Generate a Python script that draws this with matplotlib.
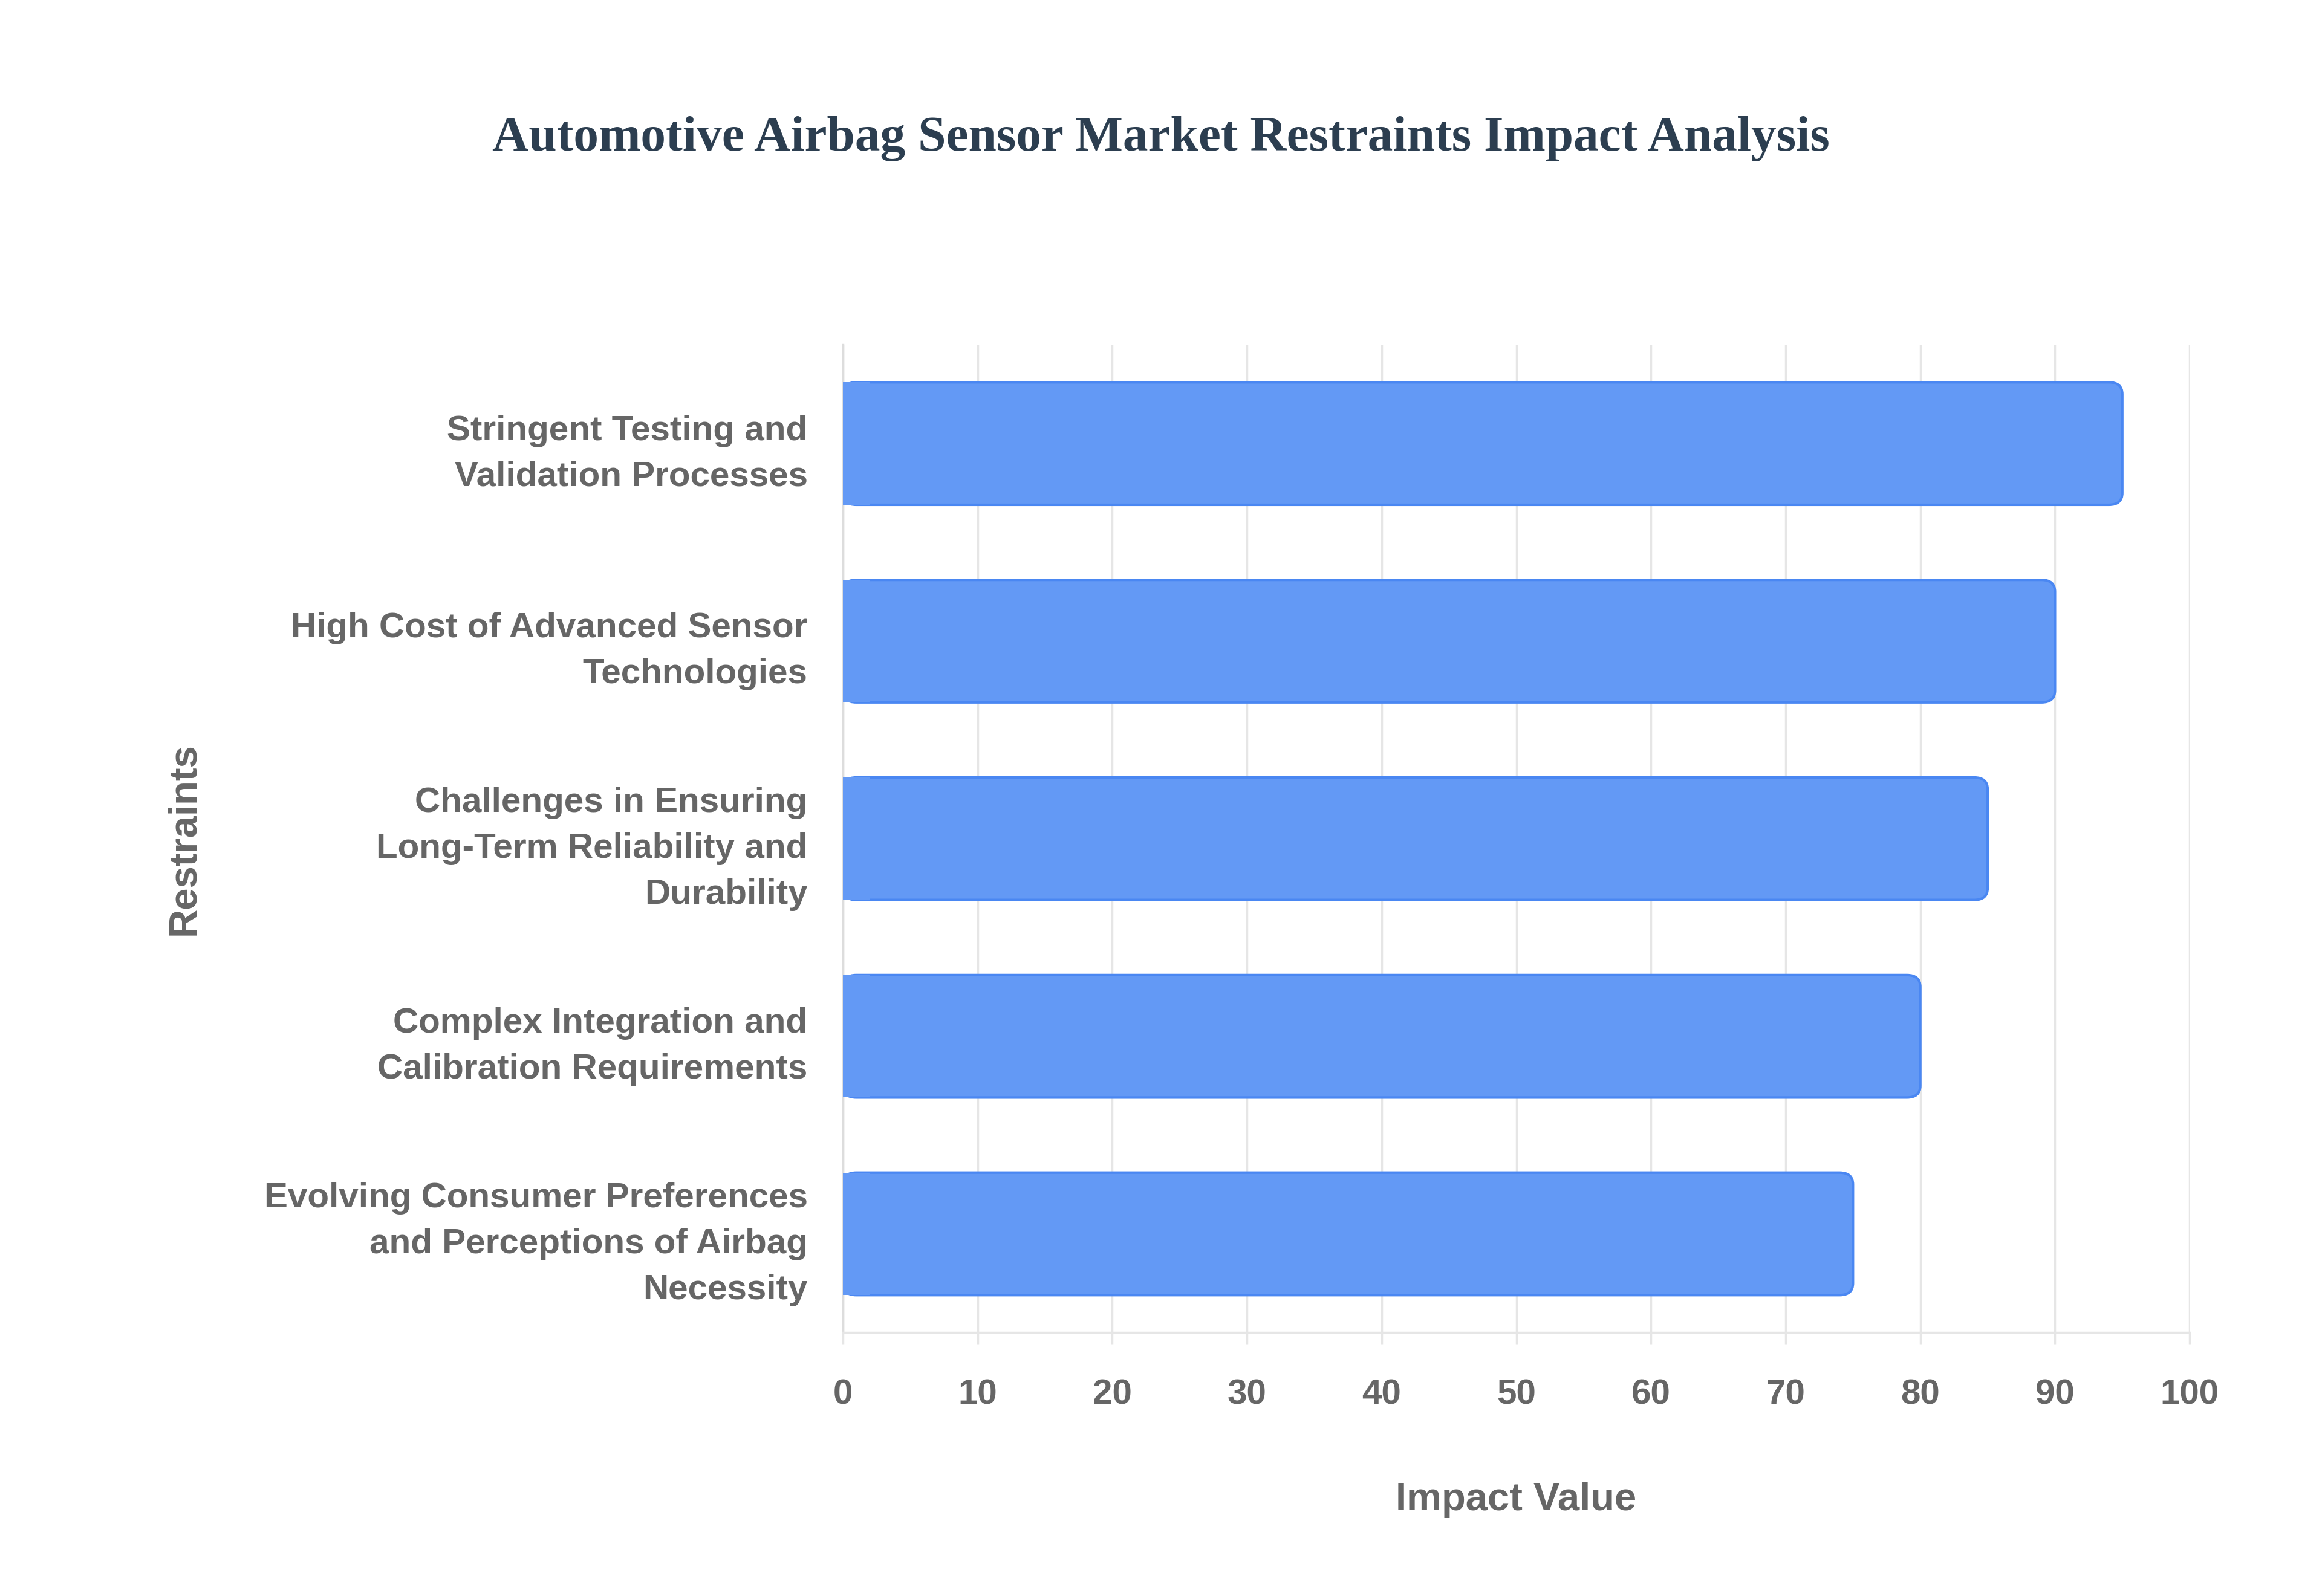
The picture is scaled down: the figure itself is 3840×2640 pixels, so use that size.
import matplotlib
matplotlib.use("Agg")
import matplotlib.pyplot as plt
from matplotlib.patches import FancyBboxPatch

# data
restraints = [
    "Stringent Testing and\nValidation Processes",
    "High Cost of Advanced Sensor\nTechnologies",
    "Challenges in Ensuring\nLong-Term Reliability and\nDurability",
    "Complex Integration and\nCalibration Requirements",
    "Evolving Consumer Preferences\nand Perceptions of Airbag\nNecessity",
]
impact = [95, 90, 85, 80, 75]
xticks = [0, 10, 20, 30, 40, 50, 60, 70, 80, 90, 100]

fig = plt.figure(figsize=(38.4, 26.4), dpi=100)
ax = fig.add_axes([0.363, 0.165, 0.580, 0.619])

bars = ax.barh(range(len(restraints)), impact, height=0.62, color="none", edgecolor="none")
# rounded right end, like the original
for b in bars:
    x0, y0, w, h = b.get_x(), b.get_y(), b.get_width(), b.get_height()
    p = FancyBboxPatch((x0, y0), w, h, boxstyle="round,pad=0,rounding_size=1.0",
                       mutation_aspect=0.06, facecolor="#6399f5", edgecolor="#4a87f2",
                       linewidth=3, zorder=3)
    ax.add_patch(p)
    # square off the left end
    ax.add_patch(plt.Rectangle((x0, y0), 2, h, facecolor="#6399f5", edgecolor="none", zorder=4))

ax.set_ylim(4.5, -0.5)
ax.set_xlim(0, 100)
ax.set_xticks(xticks)
ax.set_yticks(range(len(restraints)))
ax.set_yticklabels(restraints, ha="right", linespacing=1.52)

ax.grid(axis="x", color="#e6e6e6", linewidth=2.5, zorder=0)
ax.set_axisbelow(True)
for s in ["top", "right"]:
    ax.spines[s].set_visible(False)
ax.spines["left"].set_color("#dddddd")
ax.spines["left"].set_linewidth(2.5)
ax.spines["bottom"].set_color("#e6e6e6")
ax.spines["bottom"].set_linewidth(2.5)

ax.tick_params(axis="x", length=14, width=2.5, color="#e6e6e6", pad=41,
               labelsize=42, labelcolor="#666666")
ax.tick_params(axis="y", length=0, pad=42, labelsize=42, labelcolor="#666666")
for t in ax.get_xticklabels() + ax.get_yticklabels():
    t.set_fontfamily("Liberation Sans")
    t.set_fontweight("bold")

ax.set_xlabel("Impact Value", fontsize=47, color="#666666", fontweight="bold",
              fontfamily="Liberation Sans", va="center")
ax.xaxis.set_label_coords(0.5, -0.169)
ax.set_ylabel("Restraints", fontsize=47, color="#666666", fontweight="bold",
              fontfamily="Liberation Sans", va="center")
ax.yaxis.set_label_coords(-0.4895, 0.5)

fig.suptitle("Automotive Airbag Sensor Market Restraints Impact Analysis",
             x=0.5, y=0.913, va="center", fontsize=60, fontweight="bold",
             fontfamily="Liberation Serif", color="#2c3e50")

fig.savefig("out.png", dpi=100, facecolor="white")
